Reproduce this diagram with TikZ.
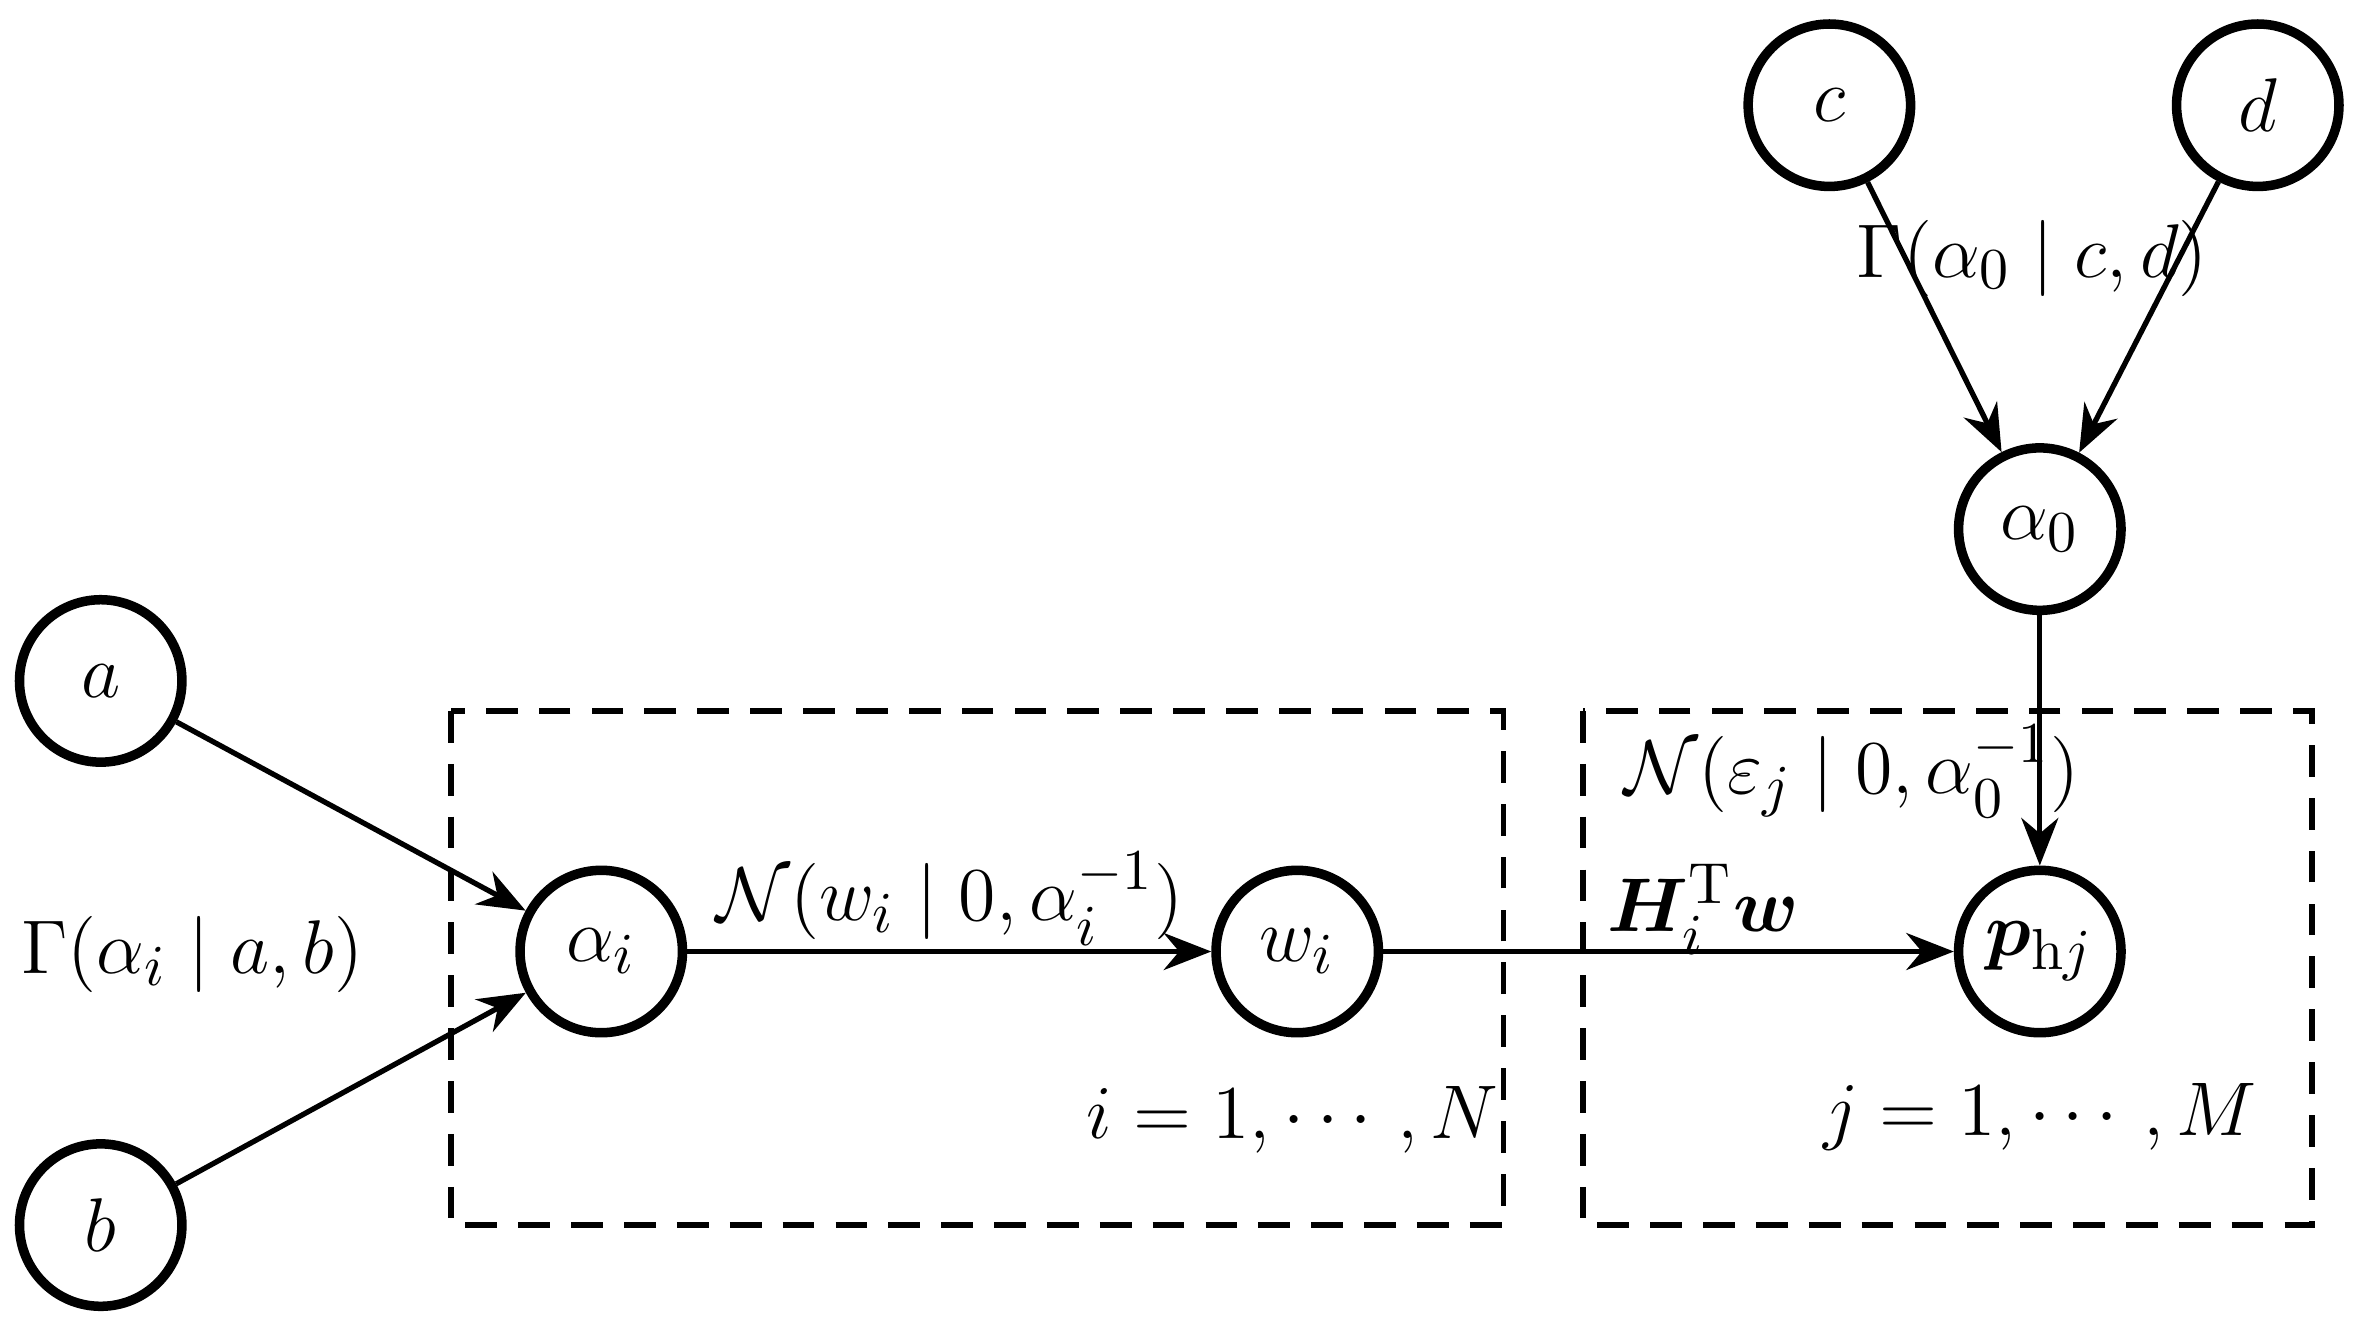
\documentclass[tikz,border=0pt]{standalone}
\usepackage{amsmath,amssymb,bm}
\usetikzlibrary{arrows.meta}
\begin{document}
\fontsize{15}{18}\selectfont
\begin{tikzpicture}[x=0.01cm,y=-0.01cm,
  var/.style={circle,draw,line width=1.8pt,minimum size=1.08cm,inner sep=0pt},
  arr/.style={-{Stealth[length=9pt,width=7pt]},line width=1pt},
  plate/.style={draw,dashed,line width=1pt,dash pattern=on 6pt off 4pt}]
\useasboundingbox (0,0) rectangle (1568,882);
\node[var] (a) at (67,453) {$a$};
\node[var] (b) at (67,815) {$b$};
\node[var] (ai) at (400,633) {$\alpha_i$};
\node[var] (wi) at (863,633) {$w_i$};
\node[var] (p) at (1357,633) {$\bm{p}_{\mathrm{h}j}$};
\node[var] (a0) at (1357,352) {$\alpha_0$};
\node[var] (c) at (1217,70) {$c$};
\node[var] (d) at (1502,70) {$d$};
\draw[plate] (300,473) rectangle (1000,815);
\draw[plate] (1053,473) rectangle (1538,815);
\draw[arr] (a) -- (ai);
\draw[arr] (b) -- (ai);
\draw[arr] (ai) -- (wi);
\draw[arr] (wi) -- (p);
\draw[arr] (a0) -- (p);
\draw[arr] (c) -- (a0);
\draw[arr] (d) -- (a0);
\node (l1) at (128,635) {$\Gamma(\alpha_i\mid a,b)$};
\node (l2) at (632,598) {$\mathcal{N}(w_i\mid 0,\alpha_i^{-1})$};
\node (l3) at (860,745) {$i=1,\cdots,N$};
\node (l4) at (1133,605) {$\bm{H}_i^{\mathrm{T}}\bm{w}$};
\node (l5) at (1232,513) {$\mathcal{N}(\varepsilon_j\mid 0,\alpha_0^{-1})$};
\node (l6) at (1357,743) {$j=1,\cdots,M$};
\node (l7) at (1352,172) {$\Gamma(\alpha_0\mid c,d)$};
\end{tikzpicture}
\end{document}
